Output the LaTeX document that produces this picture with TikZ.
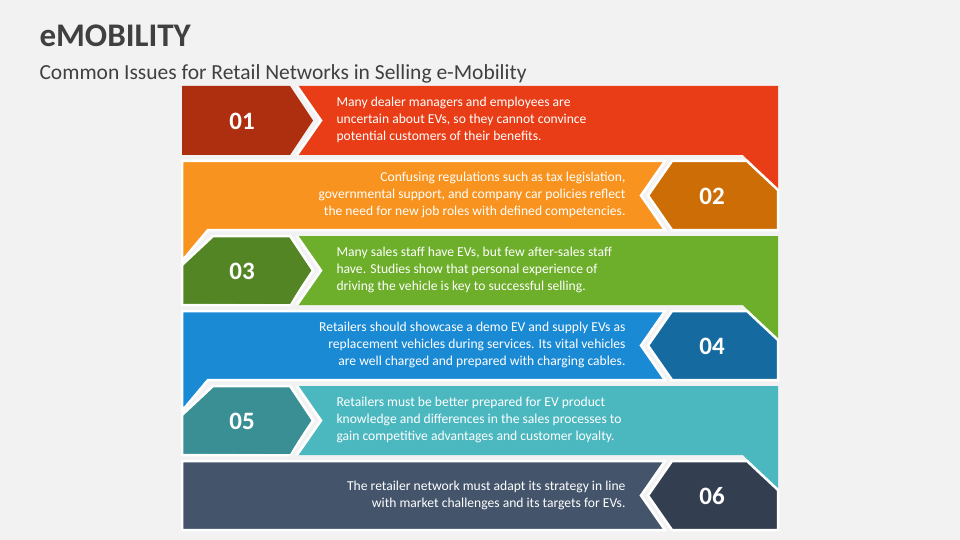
\documentclass[tikz,border=0pt]{standalone}
\usepackage{fontspec}
\setmainfont{Carlito}
\definecolor{bg}{HTML}{F2F2F2}
\definecolor{tt}{HTML}{404040}
\definecolor{la}{HTML}{E83D16}\definecolor{da}{HTML}{AE2E10}
\definecolor{lb}{HTML}{F7931E}\definecolor{db}{HTML}{CC6E05}
\definecolor{lc}{HTML}{6DAE2A}\definecolor{dc}{HTML}{548524}
\definecolor{ld}{HTML}{1B8AD5}\definecolor{dd}{HTML}{156AA0}
\definecolor{le}{HTML}{4BB8C0}\definecolor{de}{HTML}{3A8F95}
\definecolor{lf}{HTML}{44546A}\definecolor{df}{HTML}{333F50}
\tikzset{
 sh/.style={draw=white,line width=2.5pt,line join=miter},
 num/.style={text=white,font=\bfseries\fontsize{25}{25}\selectfont},
 txl/.style={text=white,font=\fontsize{13.6}{17}\selectfont,align=left,anchor=west},
 txr/.style={text=white,font=\fontsize{13.6}{17}\selectfont,align=right,anchor=east},
}
\begin{document}
\begin{tikzpicture}[x=1pt,y=-1pt]
\fill[bg] (0,0) rectangle (960,540);
\useasboundingbox (0,0) rectangle (960,540);
\node[anchor=west,text=tt,font=\bfseries\fontsize{33}{33}\selectfont] (title) at (36,36) {eMOBILITY};
\node[anchor=west,text=tt,font=\fontsize{21.5}{21.5}\selectfont] (sub) at (36,74) {Common Issues for Retail Networks in Selling e-Mobility};
\foreach \t/\l/\d/\first in {86/la/da/1,236/lc/dc/0,386/le/de/0}{
 \pgfmathsetmacro\b{\t+69}\pgfmathsetmacro\m{\t+34.5}\pgfmathsetmacro\tb{\b+36}
 \fill[\l] (297,\t) -- (778,\t) -- (778,\tb) -- (743,\b) -- (297,\b) -- (321,\m) -- cycle;
 \draw[sh] (297,\t) -- (321,\m) -- (297,\b);
 \ifnum\first=1
  \fill[\d] (182,\t) -- (290,\t) -- (313,\m) -- (290,\b) -- (182,\b) -- cycle;
 \else
  \pgfmathsetmacro\tc{\t+29}
  \filldraw[\d,sh] (213,\t) -- (290,\t) -- (313,\m) -- (290,\b) -- (182,\b) -- (182,\tc) -- cycle;
  \fill[\d] (182,\b-2) -- (288,\b-2) -- (310,\m) -- (290,\b-1) -- cycle;
 \fi
}
\foreach \t/\l/\d/\last in {161/lb/db/0,311/ld/dd/0,461/lf/df/1}{
 \pgfmathsetmacro\b{\t+69}\pgfmathsetmacro\m{\t+34.5}\pgfmathsetmacro\tb{\b+31}\pgfmathsetmacro\tc{\t+29}
 \ifnum\last=1
  \filldraw[\l,sh] (182,\t) -- (665,\t) -- (641,\m) -- (665,\b) -- (182,\b) -- cycle;
 \else
  \filldraw[\l,sh] (182,\t) -- (665,\t) -- (641,\m) -- (665,\b) -- (208,\b) -- (182,\tb) -- cycle;
 \fi
 \filldraw[\d,sh] (672,\t) -- (747,\t) -- (778,\tc) -- (778,\b) -- (672,\b) -- (648,\m) -- cycle;
}
\node[num] (n1) at (242,121) {01};
\node[num] (n2) at (712,196) {02};
\node[num] (n3) at (242,271) {03};
\node[num] (n4) at (712,346) {04};
\node[num] (n5) at (242,421) {05};
\node[num] (n6) at (712,496) {06};
\node[txl] (t1) at (333,120) {Many dealer managers and employees are\\uncertain about EVs, so they cannot convince\\potential customers of their benefits.};
\node[txr] (t2) at (629,195) {Confusing regulations such as tax legislation,\\governmental support, and company car policies reflect\\the need for new job roles with defined competencies.};
\node[txl] (t3) at (333,270) {Many sales staff have EVs, but few after-sales staff\\have. Studies show that personal experience of\\driving the vehicle is key to successful selling.};
\node[txr] (t4) at (629,345) {Retailers should showcase a demo EV and supply EVs as\\replacement vehicles during services. Its vital vehicles\\are well charged and prepared with charging cables.};
\node[txl] (t5) at (333,420) {Retailers must be better prepared for EV product\\knowledge and differences in the sales processes to\\gain competitive advantages and customer loyalty.};
\node[txr] (t6) at (629,495) {The retailer network must adapt its strategy in line\\with market challenges and its targets for EVs.};
\end{tikzpicture}
\end{document}
